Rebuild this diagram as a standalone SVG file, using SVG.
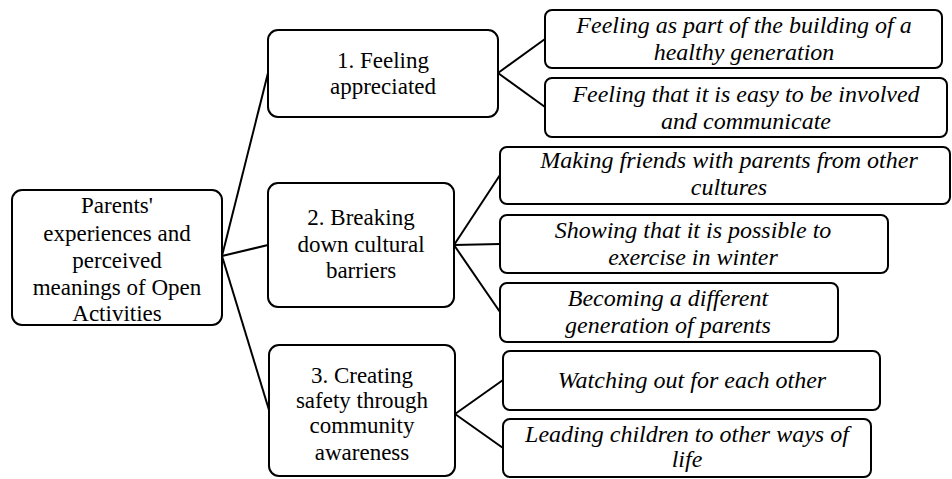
<svg xmlns="http://www.w3.org/2000/svg" width="952" height="479" viewBox="0 0 952 479">
  <style>
    .box { fill: #ffffff; stroke: #000000; stroke-width: 2; }
    .link { fill: none; stroke: #000000; stroke-width: 2; }
  </style>
  <defs>
    <style>
      .main { font-family: 'Times New Roman', 'Liberation Serif', 'DejaVu Serif', serif; font-size: 23px; fill: #000000; text-anchor: middle; }
      .sub { font-family: 'Times New Roman', 'Liberation Serif', 'DejaVu Serif', serif; font-size: 24px; font-style: italic; fill: #000000; text-anchor: middle; }
    </style>
  </defs>
  <rect width="952" height="479" fill="#ffffff"/>

  <g id="connectors">
    <line class="link" x1="222" y1="256" x2="268" y2="73"/>
    <line class="link" x1="222" y1="256" x2="268" y2="245"/>
    <line class="link" x1="222" y1="256" x2="269" y2="410"/>
    <line class="link" x1="498" y1="73" x2="545" y2="39"/>
    <line class="link" x1="498" y1="73" x2="545" y2="107"/>
    <line class="link" x1="454" y1="245" x2="500" y2="175"/>
    <line class="link" x1="454" y1="245" x2="500" y2="244"/>
    <line class="link" x1="454" y1="245" x2="500" y2="312"/>
    <line class="link" x1="455" y1="414" x2="503" y2="380"/>
    <line class="link" x1="455" y1="414" x2="503" y2="448"/>
  </g>

  <g id="root">
    <rect class="box" x="12" y="190" width="210" height="135" rx="10"/>
    <text class="main" x="117" y="213">Parents'</text>
    <text class="main" x="117" y="241">experiences and</text>
    <text class="main" x="117" y="268">perceived</text>
    <text class="main" x="117" y="295">meanings of Open</text>
    <text class="main" x="117" y="321">Activities</text>
  </g>

  <g id="theme-1">
    <rect class="box" x="268" y="30" width="230" height="87" rx="10"/>
    <text class="main" x="383" y="68">1. Feeling</text>
    <text class="main" x="383" y="94">appreciated</text>
  </g>

  <g id="theme-2">
    <rect class="box" x="268" y="183" width="186" height="124" rx="10"/>
    <text class="main" x="361" y="225">2. Breaking</text>
    <text class="main" x="361" y="252">down cultural</text>
    <text class="main" x="361" y="278">barriers</text>
  </g>

  <g id="theme-3">
    <rect class="box" x="269" y="345" width="186" height="131" rx="10"/>
    <text class="main" x="362" y="383">3. Creating</text>
    <text class="main" x="362" y="408">safety through</text>
    <text class="main" x="362" y="433">community</text>
    <text class="main" x="362" y="460">awareness</text>
  </g>

  <g id="sub-1a">
    <rect class="box" x="545" y="10" width="397" height="58" rx="7"/>
    <text class="sub" x="744" y="33">Feeling as part of the building of a</text>
    <text class="sub" x="744" y="60">healthy generation</text>
  </g>

  <g id="sub-1b">
    <rect class="box" x="545" y="78" width="402" height="59" rx="7"/>
    <text class="sub" x="746" y="102">Feeling that it is easy to be involved</text>
    <text class="sub" x="746" y="129">and communicate</text>
  </g>

  <g id="sub-2a">
    <rect class="box" x="500" y="147" width="450" height="57" rx="7"/>
    <text class="sub" x="729" y="168">Making friends with parents from other</text>
    <text class="sub" x="729" y="195">cultures</text>
  </g>

  <g id="sub-2b">
    <rect class="box" x="500" y="215" width="388" height="58" rx="7"/>
    <text class="sub" x="693" y="238">Showing that it is possible to</text>
    <text class="sub" x="693" y="265">exercise in winter</text>
  </g>

  <g id="sub-2c">
    <rect class="box" x="500" y="283" width="338" height="59" rx="7"/>
    <text class="sub" x="668" y="306">Becoming a different</text>
    <text class="sub" x="668" y="333">generation of parents</text>
  </g>

  <g id="sub-3a">
    <rect class="box" x="503" y="351" width="377" height="59" rx="7"/>
    <text class="sub" x="692" y="388">Watching out for each other</text>
  </g>

  <g id="sub-3b">
    <rect class="box" x="503" y="419" width="368" height="58" rx="7"/>
    <text class="sub" x="687" y="442">Leading children to other ways of</text>
    <text class="sub" x="687" y="467">life</text>
  </g>
</svg>
